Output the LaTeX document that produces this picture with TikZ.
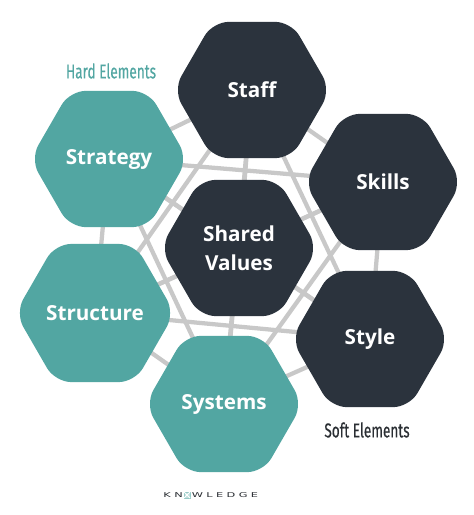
\documentclass[tikz,border=0pt]{standalone}
\usepackage{fontspec}
\setmainfont{Open Sans}
\newfontfamily\labelfont[FakeBold=0.6]{Fira Sans}
\newfontfamily\logofont[LetterSpace=30]{DejaVu Sans}
\usetikzlibrary{shapes.geometric,backgrounds}
\definecolor{hexteal}{HTML}{52A6A2}
\definecolor{hexdark}{HTML}{2B333D}
\definecolor{linkgrey}{HTML}{C8C8C8}
\definecolor{softgrey}{HTML}{2A2E33}

\begin{document}
\begin{tikzpicture}[x=0.75pt,y=-0.75pt,
		hexa/.style={regular polygon, regular polygon sides=6, minimum size=118pt, inner sep=0pt, rounded corners=12pt, text=white, align=center, font=\fontsize{15.5}{22}\selectfont\bfseries},
		hard/.style={hexa, fill=hexteal},
		soft/.style={hexa, fill=hexdark},
		link/.style={draw=linkgrey, line width=3.2pt},
		group/.style={font=\labelfont\fontsize{15}{18}\selectfont},
		logo/.style={inner sep=0pt, text=softgrey, font=\logofont\fontsize{5}{6}\selectfont}]
				\useasboundingbox (0,0) rectangle (474,515);
				
				\node[hard] (strategy) at (109,159) {Strategy};
				\node[soft] (staff) at (252,90) {Staff};
				\node[soft] (skills) at (383,182) {Skills};
				\node[soft] (shared) at (239,248) {Shared\\Values};
				\node[hard] (structure) at (95,313) {Structure};
				\node[soft] (style) at (370,339) {Style};
				\node[hard] (systems) at (224,404) {Systems};
				
				\begin{scope}[on background layer]
					\foreach \a/\b in {strategy/staff, strategy/skills, strategy/shared, strategy/structure, strategy/style, strategy/systems,
						staff/skills, staff/shared, staff/structure, staff/style, staff/systems,
						skills/shared, skills/structure, skills/style, skills/systems,
						shared/structure, shared/style, shared/systems,
						structure/style, structure/systems,
						style/systems}
						\draw[link] (\a.center) -- (\b.center);
				\end{scope}
				
				\node[group, text=hexteal] (hardlabel) at (111,71) {\scalebox{0.68}[1]{Hard Elements}};
				\node[group, text=softgrey] (softlabel) at (367,430) {\scalebox{0.68}[1]{Soft Elements}};
				
				\node[draw=hexteal!60, fill=hexteal!35, line width=0.3pt, minimum size=4.5pt, inner sep=0pt] (logoo) at (187,495) {};
				\draw[white, line width=0.6pt] (logoo.north west) -- (logoo.south east) (logoo.north east) -- (logoo.south west);
				\node[logo, anchor=east] (logokn) at (183,495) {\scalebox{1.7}[1]{KN}};
				\node[logo, anchor=west] (logorest) at (191.5,495) {\scalebox{1.7}[1]{WLEDGE}};
			\end{tikzpicture}
\end{document}
